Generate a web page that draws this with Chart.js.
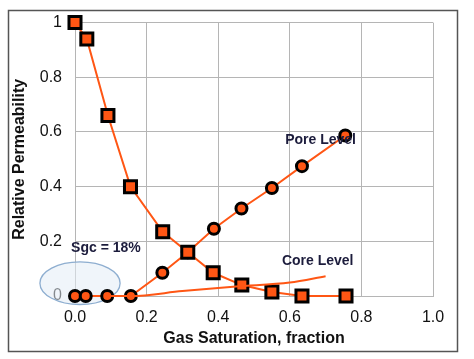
<!DOCTYPE html>
<html>
<head>
<meta charset="utf-8">
<script src="https://cdn.jsdelivr.net/npm/chart.js@4/dist/chart.umd.min.js"></script>
<style>
  html, body { margin: 0; padding: 0; background: #fff; }
  #wrap { width: 474px; height: 359px; }
</style>
</head>
<body>
<div id="wrap"><canvas id="myChart" width="474" height="359"></canvas></div>
<script>
// gas saturation values
var liquidSat = [0.0, 0.033, 0.092, 0.155, 0.245, 0.315, 0.386, 0.466, 0.55, 0.634, 0.757];
var liquidKr  = [1.0, 0.94, 0.66, 0.40, 0.235, 0.16, 0.085, 0.04, 0.015, 0.0, 0.0];

var gasSat = [0.0, 0.03, 0.09, 0.156, 0.244, 0.315, 0.388, 0.465, 0.55, 0.634, 0.755];
var gasKr  = [0.0, 0.0, 0.0, 0.0, 0.085, 0.16, 0.246, 0.32, 0.395, 0.475, 0.587];

var coreSat = [0.09, 0.156, 0.3, 0.45, 0.6, 0.7];
var coreKr  = [0.0, 0.0, 0.018, 0.035, 0.049, 0.072];

var xTickLabels = ['0.0', '0.2', '0.4', '0.6', '0.8', '1.0'];
var yTickLabels = ['0', '0.2', '0.4', '0.6', '0.8', '1'];

// annotations, in data units
var notes = [
  { text: 'Pore Level', x: 0.587, y: 0.569 },
  { text: 'Core Level', x: 0.578, y: 0.127 },
  { text: 'Sgc = 18%', x: -0.011, y: 0.174 }
];
var sgcEllipse = { x: 0.014, y: 0.047, rx: 0.112, ry: 0.078 };

function toPoints(xs, ys) {
  return xs.map(function (x, i) { return { x: x, y: ys[i] }; });
}

var orange = '#ff5614';
var fontFam = '"Liberation Sans", Arial, sans-serif';

var annotate = {
  id: 'annotate',
  beforeDatasetsDraw: function (chart) {
    var ctx = chart.ctx, xs = chart.scales.x, ys = chart.scales.y;
    var cx = xs.getPixelForValue(sgcEllipse.x);
    var cy = ys.getPixelForValue(sgcEllipse.y);
    var rx = xs.getPixelForValue(sgcEllipse.x + sgcEllipse.rx) - cx;
    var ry = cy - ys.getPixelForValue(sgcEllipse.y + sgcEllipse.ry);
    ctx.save();
    ctx.beginPath();
    ctx.ellipse(cx, cy, rx, ry, 0, 0, Math.PI * 2);
    ctx.fillStyle = 'rgba(228,237,246,0.55)';
    ctx.fill();
    ctx.strokeStyle = '#8eaed0';
    ctx.lineWidth = 1.3;
    ctx.stroke();
    ctx.restore();
  },
  afterDraw: function (chart) {
    var ctx = chart.ctx, xs = chart.scales.x, ys = chart.scales.y;
    ctx.save();
    ctx.font = 'bold 14px ' + fontFam;
    ctx.fillStyle = '#1c1c3c';
    ctx.textBaseline = 'middle';
    ctx.textAlign = 'left';
    notes.forEach(function (n) {
      ctx.fillText(n.text, xs.getPixelForValue(n.x), ys.getPixelForValue(n.y));
    });
    // outer frame
    ctx.strokeStyle = '#555';
    ctx.lineWidth = 1.5;
    ctx.strokeRect(8.5, 10.5, 449, 341);
    ctx.restore();
  }
};

var ctx = document.getElementById('myChart');
var myChart = new Chart(ctx, {
  type: 'line',
  data: {
    datasets: [
      {
        label: 'Core Level',
        data: toPoints(coreSat, coreKr),
        borderColor: orange,
        borderWidth: 2,
        pointRadius: 0,
        fill: false,
        cubicInterpolationMode: 'monotone',
        clip: false
      },
      {
        label: 'Liquid',
        data: toPoints(liquidSat, liquidKr),
        borderColor: orange,
        backgroundColor: orange,
        borderWidth: 2,
        pointStyle: 'rect',
        pointRadius: 8.5,
        pointBorderWidth: 3,
        pointBorderColor: '#000',
        pointBackgroundColor: orange,
        fill: false,
        tension: 0,
        clip: false
      },
      {
        label: 'Pore Level',
        data: toPoints(gasSat, gasKr),
        borderColor: orange,
        backgroundColor: orange,
        borderWidth: 2,
        pointStyle: 'circle',
        pointRadius: 5.5,
        pointBorderWidth: 3,
        pointBorderColor: '#000',
        pointBackgroundColor: orange,
        fill: false,
        tension: 0,
        clip: false
      }
    ]
  },
  options: {
    responsive: false,
    animation: false,
    layout: { padding: { left: 0, right: 41, top: 20, bottom: 0 } },
    plugins: {
      legend: { display: false },
      tooltip: { enabled: false }
    },
    scales: {
      x: {
        type: 'linear',
        min: 0,
        max: 1,
        afterFit: function (s) { s.height = 63; },
        afterBuildTicks: function (s) {
          s.ticks = xTickLabels.map(function (t) { return { value: parseFloat(t) }; });
        },
        grid: { color: '#b5b5b5', lineWidth: 1, drawTicks: false },
        border: { display: true, color: '#b5b5b5' },
        ticks: {
          padding: 12,
          color: '#111',
          font: { family: fontFam, size: 16 },
          callback: function (v, i) { return xTickLabels[i]; }
        },
        title: {
          display: true,
          text: 'Gas Saturation, fraction',
          color: '#111',
          font: { family: fontFam, size: 16, weight: 'bold' },
          padding: { top: 0, bottom: 11 }
        }
      },
      y: {
        type: 'linear',
        min: 0,
        max: 1,
        afterFit: function (s) { s.width = 75; },
        afterBuildTicks: function (s) {
          s.ticks = yTickLabels.map(function (t) { return { value: parseFloat(t) }; });
        },
        grid: { color: '#b5b5b5', lineWidth: 1, drawTicks: false },
        border: { display: true, color: '#b5b5b5' },
        ticks: {
          padding: 13,
          color: '#111',
          font: { family: fontFam, size: 16 },
          callback: function (v, i) { return yTickLabels[i]; }
        },
        title: {
          display: true,
          text: 'Relative Permeability',
          color: '#111',
          font: { family: fontFam, size: 16, weight: 'bold' },
          padding: { top: 10, bottom: 0 }
        }
      }
    }
  },
  plugins: [annotate]
});
</script>
</body>
</html>
